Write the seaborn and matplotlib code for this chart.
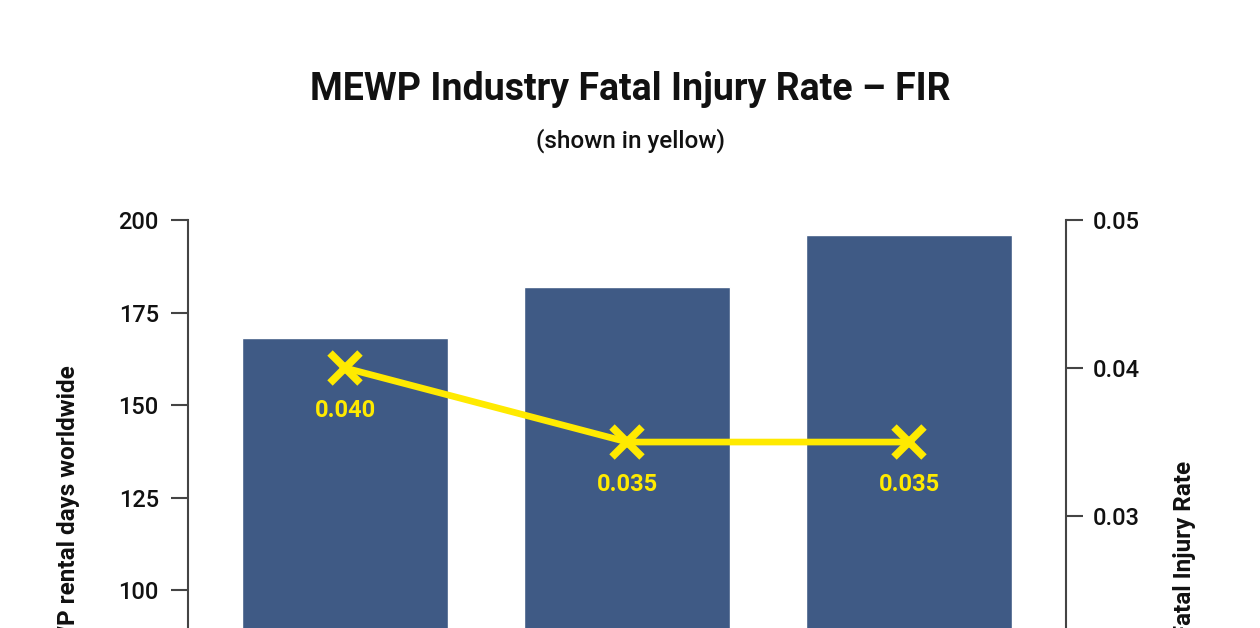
import numpy as np
import pandas as pd
import matplotlib
matplotlib.use('Agg')
import matplotlib.pyplot as plt
import seaborn as sns

# values
years = ['2016', '2017', '2018']
rental_days = [168, 182, 196]          # millions of MEWP rental days
fir = [0.040, 0.035, 0.035]            # fatal injury rate
fir_labels = ['0.040', '0.035', '0.035']
left_ticks = [0, 25, 50, 75, 100, 125, 150, 175, 200]
right_ticks = [0.0, 0.01, 0.02, 0.03, 0.04, 0.05]

BAR = '#3F5A85'
YELLOW = '#FFEA00'
INK = '#111111'
SPINE = '#444444'

sns.set_theme(style='white')
plt.rcParams['font.family'] = ['Roboto', 'DejaVu Sans']

df = pd.DataFrame({'year': years, 'days': rental_days, 'fir': fir})

fig = plt.figure(figsize=(12.6, 6.28), dpi=100)
# axes runs past the bottom edge, the picture is a crop of the top part
ax = fig.add_axes([0.1492, -0.5287, 0.6968, 1.1783])
sns.barplot(data=df, x='year', y='days', color=BAR, saturation=1, width=0.73, ax=ax)

ax2 = ax.twinx()
sns.pointplot(data=df, x='year', y='fir', color=YELLOW, markers='x', linestyles='-',
              errorbar=None, ax=ax2, markersize=21, markeredgewidth=5.5, linewidth=4.8)

for i, (v, lab) in enumerate(zip(fir, fir_labels)):
    ax2.annotate(lab, (i, v), xytext=(0, -30.5), textcoords='offset points',
                 ha='center', va='center', color=YELLOW, fontsize=17, weight='bold')

ax.set_xlim(-0.558, 2.555)
ax.set_ylim(0, 200)
ax2.set_ylim(0, 0.05)
ax.set_yticks(left_ticks)
ax.set_yticklabels([str(t) for t in left_ticks], weight='medium')
ax2.set_yticks(right_ticks)
ax2.set_yticklabels([f'{t:.2f}' for t in right_ticks], weight='medium')

for a in (ax, ax2):
    for s in ('top', 'bottom'):
        a.spines[s].set_visible(False)
    for s in ('left', 'right'):
        a.spines[s].set_color(SPINE)
        a.spines[s].set_linewidth(1.5)
ax.spines['right'].set_visible(False)
ax2.spines['left'].set_visible(False)

# year labels sit below the cropped area
ax.tick_params(axis='x', bottom=False, labelbottom=False)
ax.tick_params(axis='y', left=True, direction='out', length=12, width=1.5,
               color=SPINE, pad=9, labelsize=17, labelcolor=INK)
ax2.tick_params(axis='y', right=True, left=False, direction='out', length=12, width=1.5,
                color=SPINE, pad=7, labelsize=17, labelcolor=INK)
ax.set_xlabel('')
ax2.set_xlabel('')

ax.set_ylabel('Millions of MEWP rental days worldwide', fontsize=17.5, weight='bold',
              color=INK, ha='right', va='center')
ax.yaxis.set_label_coords(-0.136, 0.804)
ax2.set_ylabel('MEWP Fatal Injury Rate', fontsize=17.5, weight='bold',
               color=INK, ha='right', va='center')
ax2.yaxis.set_label_coords(1.1355, 0.674)

fig.text(0.5, 0.858, 'MEWP Industry Fatal Injury Rate – FIR', ha='center', va='center',
         fontsize=27, weight='bold', color=INK)
fig.text(0.5, 0.776, '(shown in yellow)', ha='center', va='center',
         fontsize=17.5, weight='medium', color=INK)

fig.savefig('out.png', dpi=100)
